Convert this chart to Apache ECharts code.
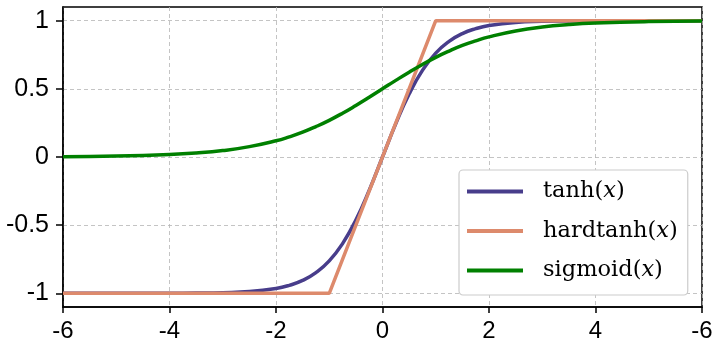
<!DOCTYPE html>
<html><head><meta charset="utf-8">
<script src="https://cdn.jsdelivr.net/npm/echarts@6/dist/echarts.min.js"></script>
<style>html,body{margin:0;padding:0;background:#fff}#c{width:718px;height:346px}</style>
</head><body><div id="c"></div>
<script>
const xs = [-6,-5,-4,-3.5,-3,-2.5,-2,-1.75,-1.5,-1.25,-1,-0.75,-0.5,-0.25,0,0.25,0.5,0.75,1,1.25,1.5,1.75,2,2.5,3,3.5,4,5,6];
const tanhVals = [-1.000,-0.9999,-0.9993,-0.998,-0.995,-0.987,-0.964,-0.941,-0.905,-0.848,-0.762,-0.635,-0.462,-0.245,0,0.245,0.462,0.635,0.762,0.848,0.905,0.941,0.964,0.987,0.995,0.998,0.9993,0.9999,1.000];
const sigmoidVals = [0.0025,0.0067,0.018,0.029,0.047,0.076,0.119,0.148,0.182,0.223,0.269,0.321,0.378,0.438,0.5,0.562,0.622,0.679,0.731,0.777,0.818,0.852,0.881,0.924,0.953,0.971,0.982,0.993,0.9975];
const hardX = [-6,-1,1,6];
const hardVals = [-1,-1,1,1];
const xTickLabels = ['-6','-4','-2','0','2','4','-6'];
const yTicks = [-1,-0.5,0,0.5,1];
const yTickLabels = ['-1','-0.5','0','0.5','1'];
const names = ['tanh(x)','hardtanh(x)','sigmoid(x)'];
const colors = ['#483d8b','#dd8a6c','#008000'];

const pair = (a,b)=>a.map((v,i)=>[v,b[i]]);
const chart = echarts.init(document.getElementById('c'));
chart.setOption({
  animation:false,
  grid:{left:63,right:16,top:7,bottom:39,show:true,borderColor:'#000',borderWidth:1.5,backgroundColor:'#fff'},
  xAxis:{type:'value',min:-6,max:6,interval:2,
    axisLine:{show:true,onZero:false,lineStyle:{color:'#000',width:1.5}},
    axisTick:{show:true,inside:false,length:6,lineStyle:{color:'#000',width:1.5}},
    axisLabel:{color:'#000',fontSize:24,fontFamily:'Liberation Sans',margin:12,
      formatter:(v)=>{const i=Math.round((v+6)/2);return xTickLabels[i];}},
    splitLine:{show:true,lineStyle:{color:'#b5b5b5',type:[4,3],width:0.8}}},
  yAxis:{type:'value',min:-1.1,max:1.1,
    axisLine:{show:true,onZero:false,lineStyle:{color:'#000',width:1.5}},
    axisTick:{show:true,inside:false,length:7,customValues:yTicks,lineStyle:{color:'#000',width:1.5}},
    axisLabel:{color:'#000',fontSize:25,fontFamily:'Liberation Sans',margin:14,customValues:yTicks,
      formatter:(v)=>{const i=yTicks.findIndex(t=>Math.abs(t-v)<1e-6);return i>=0?yTickLabels[i]:'';}},
    splitLine:{show:true,lineStyle:{color:'#b5b5b5',type:[4,3],width:0.8}}},
  legend:{orient:'vertical',left:459,top:170,
    backgroundColor:'#fff',borderColor:'#cccccc',borderWidth:1.2,borderRadius:4,
    padding:[10,10,13,8],itemGap:16.5,itemWidth:56,itemHeight:4,icon:'rect',
    data:names,
    formatter:(n)=>{const b=n.replace('(x)','');return '{n|'+b+'(}{i|x}{n|)}';},
    textStyle:{color:'#000',padding:[0,0,0,15],rich:{
      n:{fontFamily:'DejaVu Serif',fontSize:22.5,color:'#000'},
      i:{fontFamily:'DejaVu Serif',fontStyle:'italic',fontSize:22.5,color:'#000'}}}},
  series:[
    {name:names[0],type:'line',data:pair(xs,tanhVals),smooth:true,showSymbol:false,
      lineStyle:{color:colors[0],width:3.5},itemStyle:{color:colors[0]}},
    {name:names[1],type:'line',data:pair(hardX,hardVals),showSymbol:false,
      lineStyle:{color:colors[1],width:3.5},itemStyle:{color:colors[1]}},
    {name:names[2],type:'line',data:pair(xs,sigmoidVals),smooth:true,showSymbol:false,
      lineStyle:{color:colors[2],width:3.5},itemStyle:{color:colors[2]}}
  ]
});
</script></body></html>
